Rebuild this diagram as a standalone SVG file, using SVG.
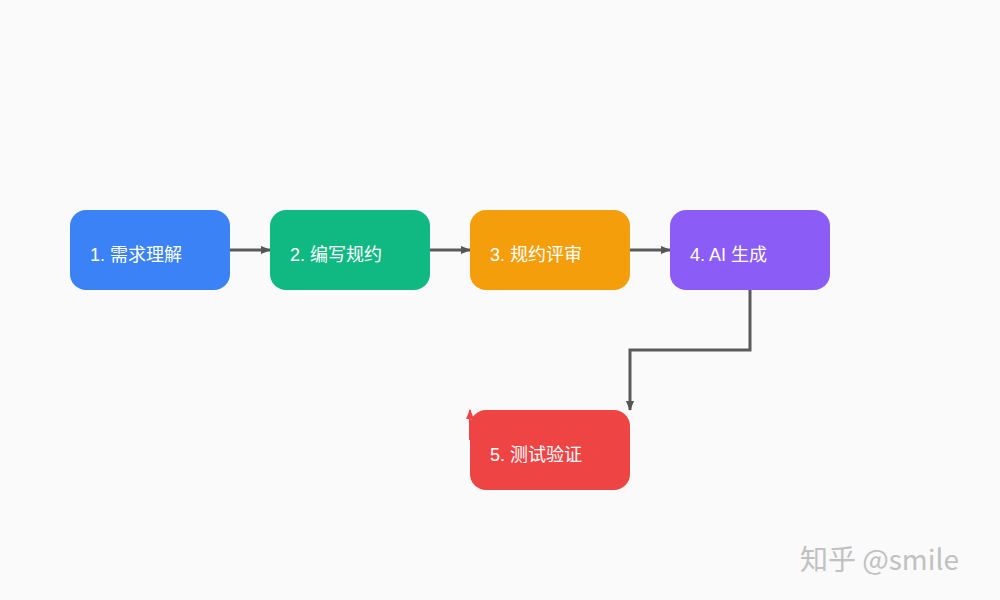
<svg xmlns="http://www.w3.org/2000/svg" width="1000" height="600" viewBox="0 0 1000 600">
<defs>
<marker id="ah" markerWidth="10" markerHeight="8" refX="9" refY="4" orient="auto" markerUnits="userSpaceOnUse"><path d="M0,0 L10,4 L0,8 Z" fill="#555"/></marker>
<marker id="ahr" markerWidth="10" markerHeight="8" refX="9" refY="4" orient="auto" markerUnits="userSpaceOnUse"><path d="M0,0 L10,4 L0,8 Z" fill="#ef4444"/></marker>
<style>
.lbl{font-family:"Liberation Sans","Noto Sans CJK SC",sans-serif;font-size:18px;fill:#fff;}
.c{fill:none;stroke:#5a5a5a;stroke-width:3;}
</style>
</defs>
<rect width="1000" height="600" fill="#fafafa"/>
<g id="connectors">
<path d="M470,440 L470,410" stroke="#ef4444" stroke-width="2" fill="none" marker-end="url(#ahr)"/>
<path class="c" d="M230,250 L270,250" marker-end="url(#ah)"/>
<path class="c" d="M430,250 L470,250" marker-end="url(#ah)"/>
<path class="c" d="M630,250 L670,250" marker-end="url(#ah)"/>
<path class="c" d="M750,290 L750,350 L630,350 L630,410" marker-end="url(#ah)"/>
</g>
<g id="n1"><rect x="70" y="210" width="160" height="80" rx="16" fill="#3b82f6"/><text class="lbl" x="90" y="261">1. 需求理解</text></g>
<g id="n2"><rect x="270" y="210" width="160" height="80" rx="16" fill="#10b981"/><text class="lbl" x="290" y="261">2. 编写规约</text></g>
<g id="n3"><rect x="470" y="210" width="160" height="80" rx="16" fill="#f59e0b"/><text class="lbl" x="490" y="261">3. 规约评审</text></g>
<g id="n4"><rect x="670" y="210" width="160" height="80" rx="16" fill="#8b5cf6"/><text class="lbl" x="690" y="261">4. AI 生成</text></g>
<g id="n5"><rect x="470" y="410" width="160" height="80" rx="16" fill="#ef4444"/><text class="lbl" x="490" y="461">5. 测试验证</text></g>
<text x="800" y="570" font-family="'Noto Sans CJK SC',sans-serif" font-size="28" fill="#bbbbbb" opacity="0.9">知乎 @smile</text>
</svg>
